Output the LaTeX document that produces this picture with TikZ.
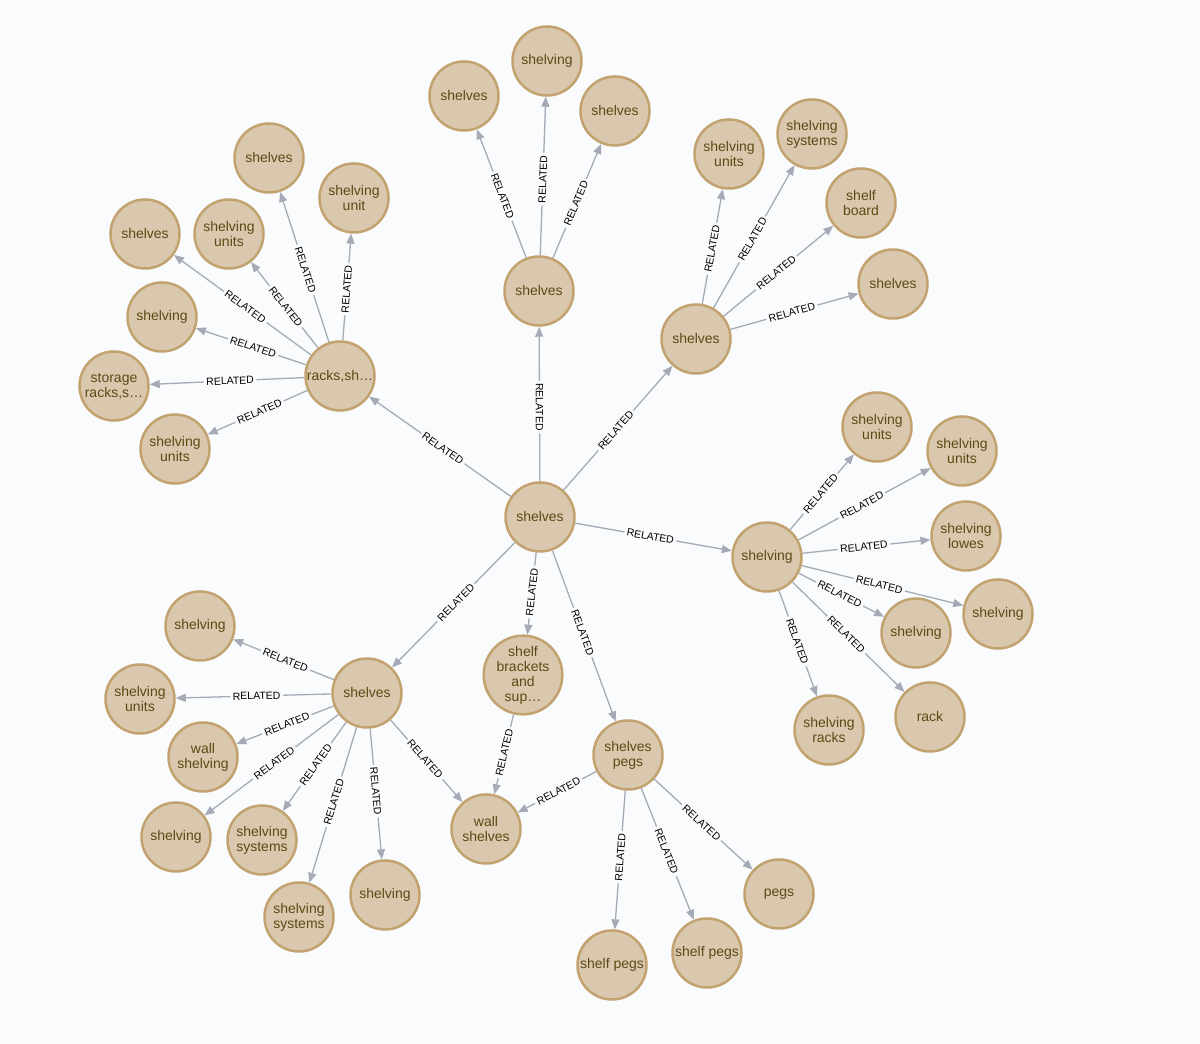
\documentclass[tikz,border=0pt]{standalone}
\usepackage{fontspec}
\setmainfont{Liberation Sans}
\usetikzlibrary{arrows.meta}
\definecolor{bgcol}{HTML}{F9FBFD}
\definecolor{nodefill}{HTML}{D9C8AE}
\definecolor{nodeline}{HTML}{C2A370}
\definecolor{nodetext}{HTML}{5C4A14}
\definecolor{edgecol}{HTML}{A5ABB6}

\begin{document}
\begin{tikzpicture}[x=1pt,y=1pt,
  term/.style={circle,draw=nodeline,line width=2.5pt,fill=nodefill,minimum size=69pt,inner sep=0pt,align=center,text=nodetext,font=\fontsize{14}{15}\selectfont},
  rel/.style={draw=edgecol,line width=1.3pt,-{Triangle[length=10pt,width=8pt]}},
  lbl/.style={pos=0.48,sloped,fill=bgcol,inner sep=2.5pt,text=black,font=\fontsize{10.5}{12}\selectfont}]
%set diagram left start at 0, and has height of 1044
\fill[bgcol] (0,0) rectangle (1200,1044);

% Centre
\node[term] (c) at (540,527) {shelves};
% Hubs
\node[term] (k) at (340,668) {racks,sh…};
\node[term] (t) at (539,753) {shelves};
\node[term] (u) at (696,705) {shelves};
\node[term] (r) at (767,487) {shelving};
\node[term] (p) at (628,289) {shelves\\pegs};
\node[term] (b) at (523,369) {shelf\\brackets\\and\\sup…};
\node[term] (l) at (367,351) {shelves};
\node[term] (w) at (486,215) {wall\\shelves};

% racks,sh... leaves
\node[term] (k1) at (269,886) {shelves};
\node[term] (k2) at (354,846) {shelving\\unit};
\node[term] (k3) at (229,810) {shelving\\units};
\node[term] (k4) at (145,810) {shelves};
\node[term] (k5) at (162,727) {shelving};
\node[term] (k6) at (114,658) {storage\\racks,s…};
\node[term] (k7) at (175,595) {shelving\\units};
% top leaves
\node[term] (t1) at (464,948) {shelves};
\node[term] (t2) at (547,983) {shelving};
\node[term] (t3) at (615,933) {shelves};
% upper right leaves
\node[term] (u1) at (729,890) {shelving\\units};
\node[term] (u2) at (812,910) {shelving\\systems};
\node[term] (u3) at (861,841) {shelf\\board};
\node[term] (u4) at (893,760) {shelves};
% right leaves
\node[term] (r1) at (877,617) {shelving\\units};
\node[term] (r2) at (962,593) {shelving\\units};
\node[term] (r3) at (966,508) {shelving\\lowes};
\node[term] (r4) at (998,430) {shelving};
\node[term] (r5) at (916,411) {shelving};
\node[term] (r6) at (930,327) {rack};
\node[term] (r7) at (829,314) {shelving\\racks};
% pegs leaves
\node[term] (p1) at (779,150) {pegs};
\node[term] (p2) at (707,91) {shelf pegs};
\node[term] (p3) at (612,79) {shelf pegs};
% lower left leaves
\node[term] (l1) at (200,418) {shelving};
\node[term] (l2) at (140,345) {shelving\\units};
\node[term] (l3) at (203,287) {wall\\shelving};
\node[term] (l4) at (176,207) {shelving};
\node[term] (l5) at (262,204) {shelving\\systems};
\node[term] (l6) at (299,127) {shelving\\systems};
\node[term] (l7) at (385,149) {shelving};

% Relationships
\foreach \to in {k,t,u,r,p,b,l}
  \draw[rel] (c) -- node[lbl]{RELATED} (\to);
\foreach \to in {k1,k2,k3,k4,k5,k6,k7}
  \draw[rel] (k) -- node[lbl]{RELATED} (\to);
\foreach \to in {t1,t2,t3}
  \draw[rel] (t) -- node[lbl]{RELATED} (\to);
\foreach \to in {u1,u2,u3,u4}
  \draw[rel] (u) -- node[lbl]{RELATED} (\to);
\foreach \to in {r1,r2,r3,r4,r5,r6,r7}
  \draw[rel] (r) -- node[lbl]{RELATED} (\to);
\foreach \to in {p1,p2,p3,w}
  \draw[rel] (p) -- node[lbl]{RELATED} (\to);
\foreach \to in {l1,l2,l3,l4,l5,l6,l7,w}
  \draw[rel] (l) -- node[lbl]{RELATED} (\to);
\draw[rel] (b) -- node[lbl]{RELATED} (w);

\end{tikzpicture}
\end{document}
